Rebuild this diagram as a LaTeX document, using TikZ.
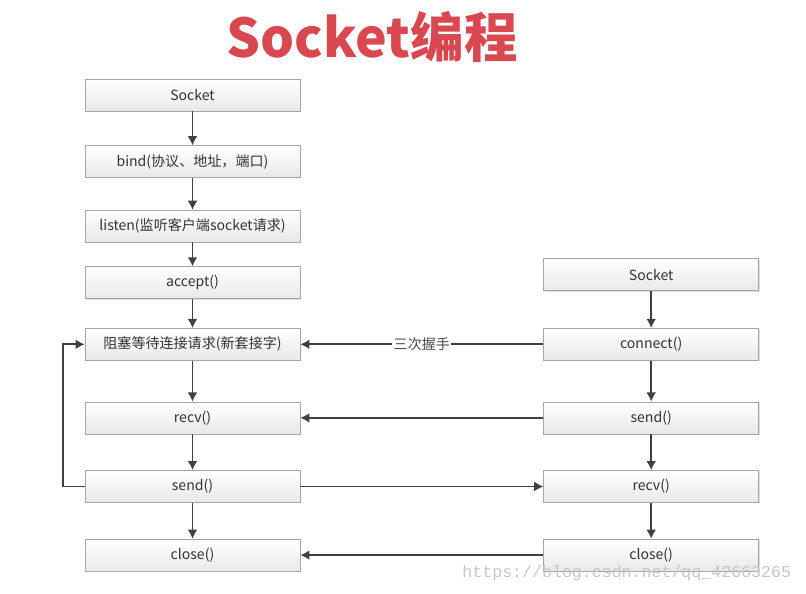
\documentclass[tikz,border=0pt]{standalone}
\usepackage{fontspec}
\setmainfont{Noto Sans CJK SC}
\newfontfamily\wmfont{Liberation Mono}
\usetikzlibrary{positioning, arrows.meta, shadows}

\definecolor{titlered}{RGB}{217,72,80}
\definecolor{linegray}{RGB}{64,64,64}

\tikzset{
    box/.style={draw=gray!70, top color=white, bottom color=gray!18,
        minimum width=5.375cm, minimum height=0.8cm, inner sep=1pt,
        font=\fontsize{10}{11}\selectfont, text=black!80,
        drop shadow={opacity=0.25, shadow xshift=0.6pt, shadow yshift=-0.6pt}},
    flow/.style={-{Latex[length=6.5pt, width=7pt]}, line width=1.3pt, draw=linegray},
}

\begin{document}
\begin{tikzpicture}[x=0.025cm, y=-0.025cm]

    \useasboundingbox (0,0) rectangle (806,593);

    \node(title)[text=titlered, font=\fontsize{38}{40}\selectfont\bfseries] at (372,37) {Socket编程};

    % server side
    \node(s0)[box] at (192.5,95) {Socket};
    \node(s1)[box,below=0.85cm of s0]{bind(协议、地址，端口)};
    \node(s2)[box,below=0.8cm of s1]{listen(监听客户端socket请求)};
    \node(s3)[box,below=0.6cm of s2]{accept()};
    \node(s4)[box,below=0.725cm of s3]{阻塞等待连接请求(新套接字)};
    \node(s5)[box,below=1.025cm of s4]{recv()};
    \node(s6)[box,below=0.9cm of s5]{send()};
    \node(s7)[box,below=0.9cm of s6]{close()};

    % client side
    \node(c1)[box,right=6.075cm of s4]{connect()};
    \node(c0)[box,above=0.925cm of c1]{Socket};
    \node(c2)[box,right=6.075cm of s5]{send()};
    \node(c3)[box,right=6.075cm of s6]{recv()};
    \node(c4)[box,right=6.075cm of s7]{close()};

    \coordinate(loop) at (63,0);

    \draw[flow] (s0) -- (s1);
    \draw[flow] (s1) -- (s2);
    \draw[flow] (s2) -- (s3);
    \draw[flow] (s3) -- (s4);
    \draw[flow] (s4) -- (s5);
    \draw[flow] (s5) -- (s6);
    \draw[flow] (s6) -- (s7);

    \draw[flow] (c0) -- (c1);
    \draw[flow] (c1) -- (c2);
    \draw[flow] (c2) -- (c3);
    \draw[flow] (c3) -- (c4);

    \draw[flow] (c1) -- node[fill=white, inner sep=1pt, text=black!70,
        font=\fontsize{10}{11}\selectfont]{三次握手} (s4);
    \draw[flow] (c2) -- (s5);
    \draw[flow] (s6) -- (c3);
    \draw[flow] (c4) -- (s7);
    \draw[flow] (s6.west) -- (loop |- s6.west) -- (loop |- s4.west) -- (s4.west);

    \node(wm)[text=gray!45, font=\wmfont\fontsize{11.8}{12}\selectfont, anchor=east] at (796,573) {https://blog.csdn.net/qq\_42663265};

\end{tikzpicture}
\end{document}
